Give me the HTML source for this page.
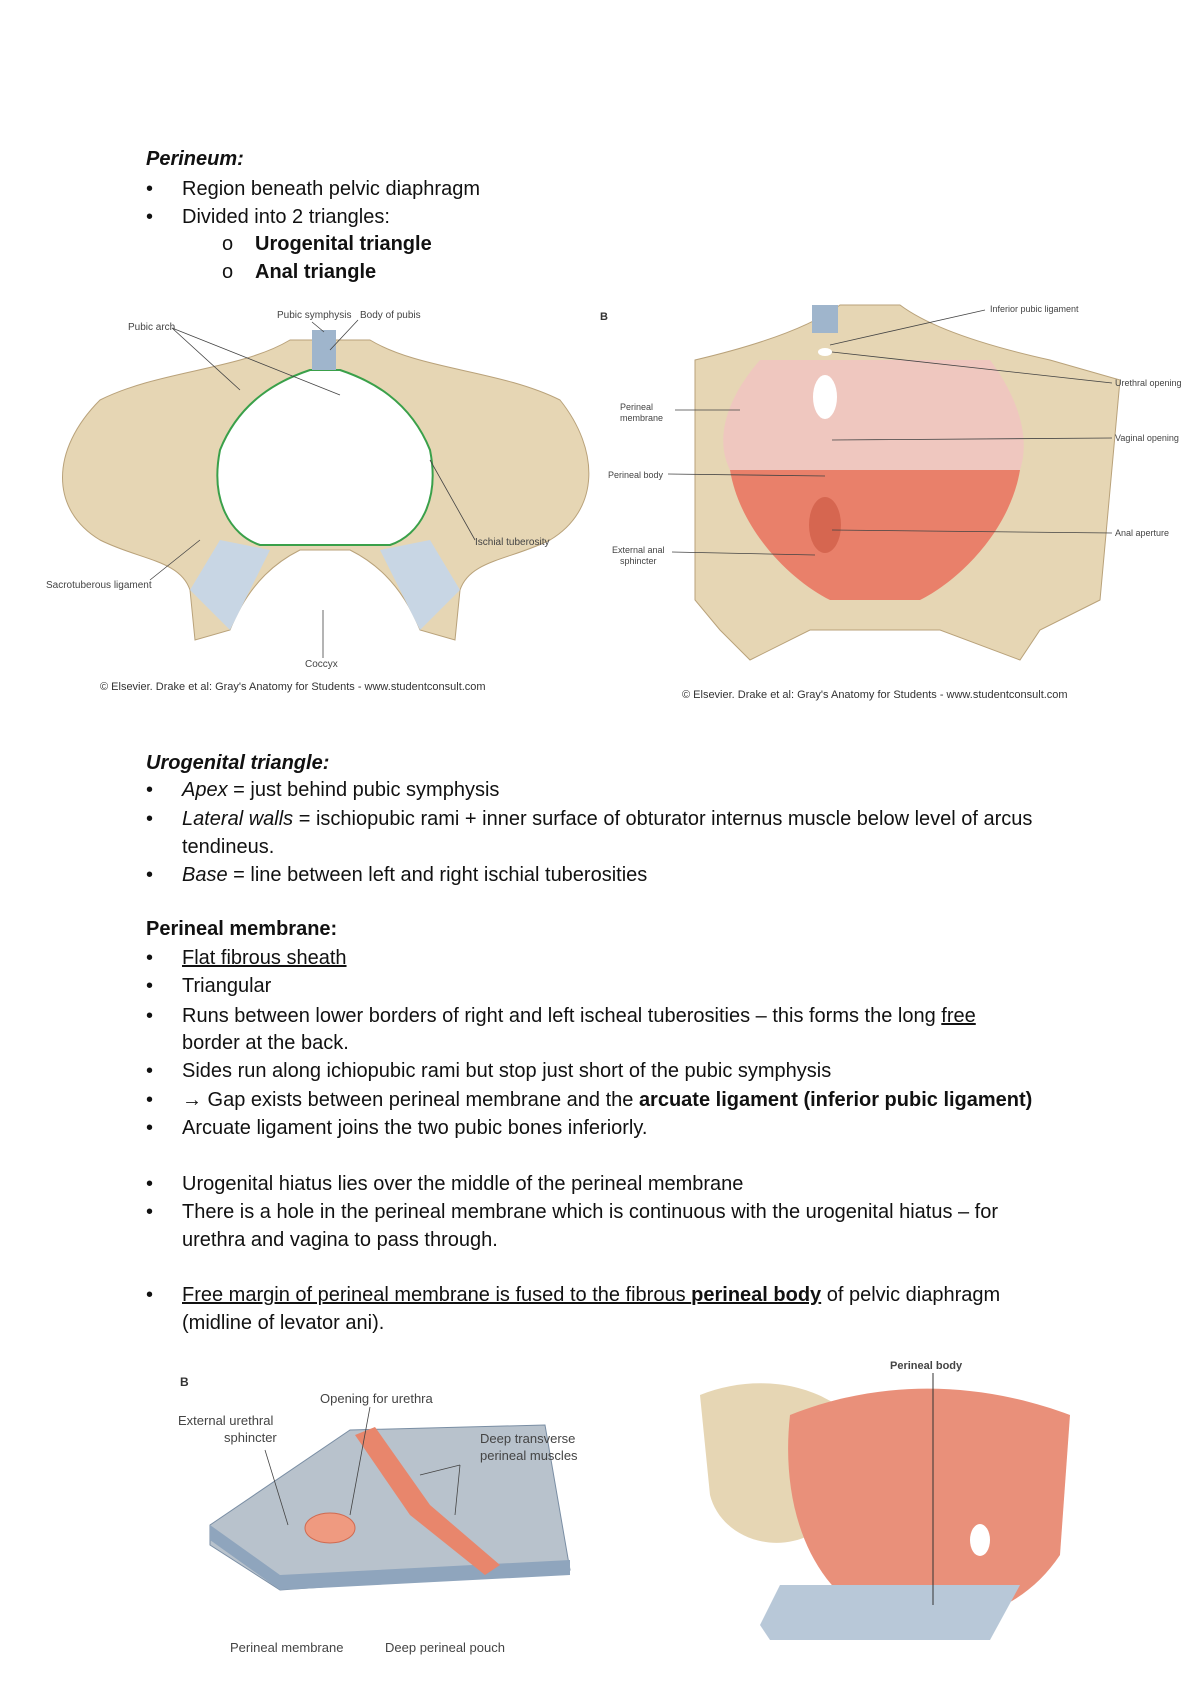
<!DOCTYPE html>
<html><head><meta charset="utf-8"><style>
body{margin:0;width:1200px;height:1696px;background:#fff;position:relative;overflow:hidden;font-family:"Liberation Sans",sans-serif;color:#111}
.l{position:absolute;font-size:20px;white-space:nowrap;line-height:20px}
svg{position:absolute}
.t{font-family:"Liberation Sans",sans-serif;fill:#444}
</style></head><body>
<div class="l" style="left:146px;top:149px"><b><i>Perineum:</i></b></div>
<div class="l" style="left:146px;top:179px">•</div><div class="l" style="left:182px;top:179px">Region beneath pelvic diaphragm</div>
<div class="l" style="left:146px;top:207px">•</div><div class="l" style="left:182px;top:207px">Divided into 2 triangles:</div>
<div class="l" style="left:222px;top:234px">o</div><div class="l" style="left:255px;top:234px"><b>Urogenital triangle</b></div>
<div class="l" style="left:222px;top:262px">o</div><div class="l" style="left:255px;top:262px"><b>Anal triangle</b></div>

<svg style="left:40px;top:310px" width="570" height="395" viewBox="0 0 570 395" overflow="visible">
<path d="M60 90 C120 60 200 60 250 30 L330 30 C380 60 460 60 520 90 C560 140 560 200 510 230 C470 250 430 250 420 280 L415 330 L380 320 C360 270 330 250 310 240 L260 240 C240 250 210 270 190 320 L155 330 L150 280 C140 250 100 250 60 230 C10 200 10 140 60 90Z" fill="#e6d6b4" stroke="#b9a27a"/>
<path d="M180 140 C200 90 240 70 270 60 L300 60 C330 70 370 90 390 140 C400 190 380 225 350 235 L220 235 C190 225 170 190 180 140Z" fill="#fff" stroke="#3aa04a" stroke-width="2"/>
<path d="M150 280 L180 230 L230 240 L190 320Z M420 280 L390 230 L340 240 L380 320Z" fill="#c8d6e4"/>
<rect x="272" y="20" width="24" height="40" fill="#9fb5cc"/>
<g stroke="#444" stroke-width="0.8" fill="none"><path d="M132 18 L300 85 M132 18 L200 80 M272 12 L284 22 M318 10 L290 40 M435 230 L390 150 M110 270 L160 230 M283 348 L283 300"/></g>
<text class="t" x="237" y="8" font-size="10">Pubic symphysis</text>
<text class="t" x="88" y="20" font-size="10">Pubic arch</text>
<text class="t" x="320" y="8" font-size="10">Body of pubis</text>
<text class="t" x="435" y="235" font-size="10">Ischial tuberosity</text>
<text class="t" x="6" y="278" font-size="10">Sacrotuberous ligament</text>
<text class="t" x="265" y="357" font-size="10">Coccyx</text>
<text x="60" y="380" font-size="11" fill="#333">© Elsevier. Drake et al: Gray's Anatomy for Students - www.studentconsult.com</text>
</svg>

<svg style="left:600px;top:300px" width="600" height="410" viewBox="0 0 600 410">
<text x="0" y="20" font-size="11" font-weight="bold" fill="#333">B</text>
<path d="M95 60 C180 40 220 20 240 5 L300 5 C320 20 360 40 450 60 L520 80 L500 300 L440 330 L420 360 L340 330 L300 330 L210 330 L150 360 L120 330 L95 300Z" fill="#e6d6b4" stroke="#b9a27a"/>
<path d="M160 60 L390 60 C420 100 430 140 420 170 L130 170 C115 140 125 100 160 60Z" fill="#efc7bf"/>
<path d="M130 170 L420 170 C410 230 360 280 320 300 L230 300 C190 280 140 230 130 170Z" fill="#e9806a"/>
<ellipse cx="225" cy="225" rx="16" ry="28" fill="#d66650"/>
<ellipse cx="225" cy="97" rx="12" ry="22" fill="#fff"/>
<ellipse cx="225" cy="52" rx="7" ry="4" fill="#fff"/>
<rect x="212" y="5" width="26" height="28" fill="#9fb5cc"/>
<g stroke="#444" stroke-width="0.8"><path d="M385 10 L230 45 M512 83 L232 52 M512 138 L232 140 M512 233 L232 230 M75 110 L140 110 M68 174 L225 176 M72 252 L215 255"/></g>
<text class="t" x="390" y="12" font-size="9">Inferior pubic ligament</text>
<text class="t" x="515" y="86" font-size="9">Urethral opening</text>
<text class="t" x="515" y="141" font-size="9">Vaginal opening</text>
<text class="t" x="515" y="236" font-size="9">Anal aperture</text>
<text class="t" x="20" y="110" font-size="9">Perineal</text><text class="t" x="20" y="121" font-size="9">membrane</text>
<text class="t" x="8" y="178" font-size="9">Perineal body</text>
<text class="t" x="12" y="253" font-size="9">External anal</text><text class="t" x="20" y="264" font-size="9">sphincter</text>
<text x="82" y="398" font-size="11" fill="#333">© Elsevier. Drake et al: Gray's Anatomy for Students - www.studentconsult.com</text>
</svg>

<div class="l" style="left:146px;top:753px"><b><i>Urogenital triangle:</i></b></div>
<div class="l" style="left:146px;top:780px">•</div><div class="l" style="left:182px;top:780px"><i>Apex</i> = just behind pubic symphysis</div>
<div class="l" style="left:146px;top:809px">•</div><div class="l" style="left:182px;top:809px"><i>Lateral walls</i> = ischiopubic rami + inner surface of obturator internus muscle below level of arcus</div>
<div class="l" style="left:182px;top:837px">tendineus.</div>
<div class="l" style="left:146px;top:865px">•</div><div class="l" style="left:182px;top:865px"><i>Base</i> = line between left and right ischial tuberosities</div>
<div class="l" style="left:146px;top:919px"><b>Perineal membrane:</b></div>
<div class="l" style="left:146px;top:948px">•</div><div class="l" style="left:182px;top:948px"><u>Flat fibrous sheath</u></div>
<div class="l" style="left:146px;top:976px">•</div><div class="l" style="left:182px;top:976px">Triangular</div>
<div class="l" style="left:146px;top:1006px">•</div><div class="l" style="left:182px;top:1006px">Runs between lower borders of right and left ischeal tuberosities – this forms the long <u>free</u></div>
<div class="l" style="left:182px;top:1033px">border at the back.</div>
<div class="l" style="left:146px;top:1061px">•</div><div class="l" style="left:182px;top:1061px">Sides run along ichiopubic rami but stop just short of the pubic symphysis</div>
<div class="l" style="left:146px;top:1090px">•</div><div class="l" style="left:182px;top:1090px">→ Gap exists between perineal membrane and the <b>arcuate ligament (inferior pubic ligament)</b></div>
<div class="l" style="left:146px;top:1118px">•</div><div class="l" style="left:182px;top:1118px">Arcuate ligament joins the two pubic bones inferiorly.</div>
<div class="l" style="left:146px;top:1174px">•</div><div class="l" style="left:182px;top:1174px">Urogenital hiatus lies over the middle of the perineal membrane</div>
<div class="l" style="left:146px;top:1202px">•</div><div class="l" style="left:182px;top:1202px">There is a hole in the perineal membrane which is continuous with the urogenital hiatus – for</div>
<div class="l" style="left:182px;top:1230px">urethra and vagina to pass through.</div>
<div class="l" style="left:146px;top:1285px">•</div><div class="l" style="left:182px;top:1285px"><u>Free margin of perineal membrane is fused to the fibrous <b>perineal body</b></u> of pelvic diaphragm</div>
<div class="l" style="left:182px;top:1313px">(midline of levator ani).</div>

<svg style="left:170px;top:1365px" width="430" height="300" viewBox="0 0 430 300">
<text x="10" y="21" font-size="12" font-weight="bold" fill="#333">B</text>
<path d="M40 160 L180 65 L375 60 L400 205 L110 225 L40 180Z" fill="#b8c2cc" stroke="#7a8ea4"/>
<path d="M40 160 L110 210 L400 195 L400 210 L110 225 L40 175Z" fill="#8fa5bd"/>
<path d="M185 70 L205 62 L260 140 L330 200 L315 210 L240 150Z" fill="#e8866c"/>
<ellipse cx="160" cy="163" rx="25" ry="15" fill="#ef9a80" stroke="#d06a50"/>
<g stroke="#444" stroke-width="0.8"><path d="M200 42 L180 150 M95 85 L118 160 M290 100 L250 110 M290 100 L285 150"/></g>
<text class="t" x="150" y="38" font-size="13">Opening for urethra</text>
<text class="t" x="8" y="60" font-size="13">External urethral</text><text class="t" x="54" y="77" font-size="13">sphincter</text>
<text class="t" x="310" y="78" font-size="13">Deep transverse</text><text class="t" x="310" y="95" font-size="13">perineal muscles</text>
<text class="t" x="60" y="287" font-size="13">Perineal membrane</text>
<text class="t" x="215" y="287" font-size="13">Deep perineal pouch</text>
</svg>

<svg style="left:690px;top:1355px" width="390" height="300" viewBox="0 0 390 300">
<text class="t" x="200" y="14" font-size="11" font-weight="bold">Perineal body</text>
<path d="M10 40 C60 20 120 25 160 60 L120 180 C80 200 30 180 20 140Z" fill="#e6d6b4"/>
<path d="M100 60 C200 20 300 30 380 60 L370 200 C330 260 260 280 180 260 C120 230 90 150 100 60Z" fill="#e9907a"/>
<path d="M70 270 L90 230 L330 230 L300 285 L80 285Z" fill="#b8c8d8"/>
<ellipse cx="290" cy="185" rx="10" ry="16" fill="#fff"/>
<line x1="243" y1="18" x2="243" y2="250" stroke="#333"/>
</svg>
</body></html>
